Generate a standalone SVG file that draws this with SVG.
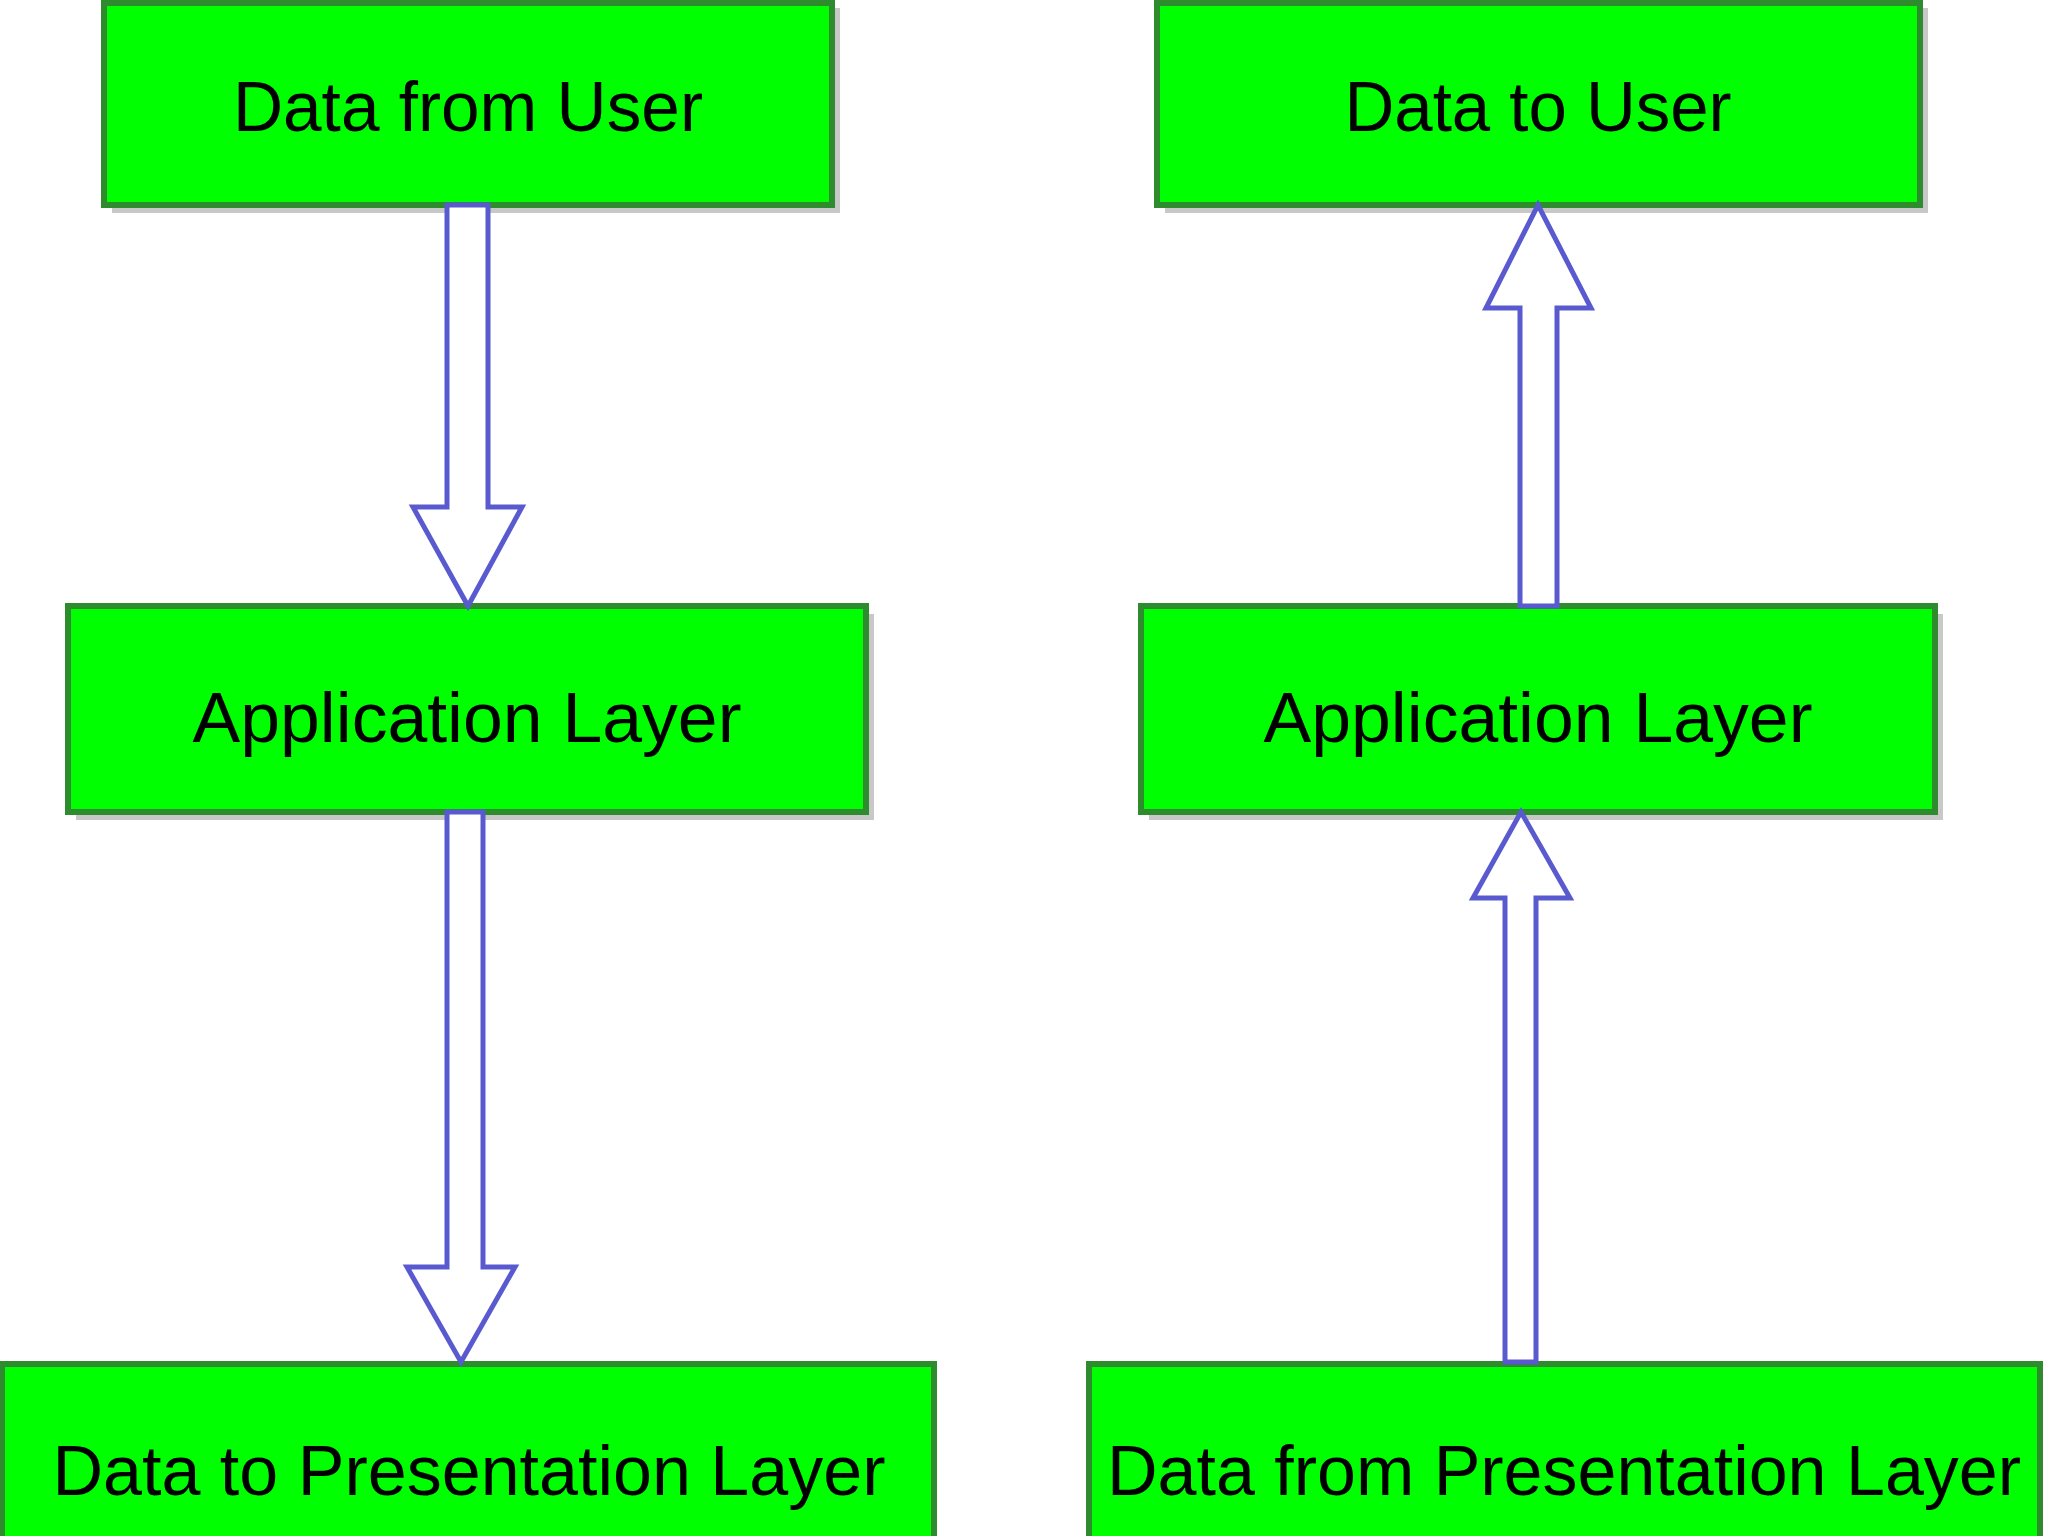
<svg xmlns="http://www.w3.org/2000/svg" width="2048" height="1536" viewBox="0 0 2048 1536">
<style>
.sh{fill:#c8c8c8}
.bx{fill:#00ff00;stroke:#2e8b2e;stroke-width:6}
.t{font-family:"Liberation Sans",Arial,sans-serif;font-size:70px;fill:#000;text-anchor:middle}
.ar{fill:#fff;stroke:#5a5ad0;stroke-width:5;stroke-linejoin:miter}
</style>
<rect width="2048" height="1536" fill="#fff"/>
<g id="n1"><rect class="sh" x="112" y="8" width="728" height="205"/><rect class="bx" x="104" y="3" width="728" height="202"/><text class="t" x="468" y="131" textLength="470" lengthAdjust="spacingAndGlyphs">Data from User</text></g>
<g id="n2"><rect class="sh" x="1165" y="8" width="763" height="205"/><rect class="bx" x="1157" y="3" width="763" height="202"/><text class="t" x="1538" y="131" textLength="387" lengthAdjust="spacingAndGlyphs">Data to User</text></g>
<g id="n3"><rect class="sh" x="76" y="614" width="798" height="206"/><rect class="bx" x="68" y="606" width="798" height="206"/><text class="t" x="467" y="742" textLength="549" lengthAdjust="spacingAndGlyphs">Application Layer</text></g>
<g id="n4"><rect class="sh" x="1149" y="614" width="794" height="206"/><rect class="bx" x="1141" y="606" width="794" height="206"/><text class="t" x="1538" y="742" textLength="549" lengthAdjust="spacingAndGlyphs">Application Layer</text></g>
<g id="n5"><rect class="bx" x="2" y="1364" width="932" height="180"/><text class="t" x="469" y="1495" textLength="833" lengthAdjust="spacingAndGlyphs">Data to Presentation Layer</text></g>
<g id="n6"><rect class="bx" x="1089" y="1364" width="951" height="180"/><text class="t" x="1564" y="1495" textLength="914" lengthAdjust="spacingAndGlyphs">Data from Presentation Layer</text></g>
<g id="connectors">
<path class="ar" d="M447,205 L488,205 L488,507 L522,507 L468,606 L413,507 L447,507 Z"/>
<path class="ar" d="M447,812 L483,812 L483,1267 L515,1267 L461,1362 L407,1267 L447,1267 Z"/>
<path class="ar" d="M1520,606 L1557,606 L1557,308 L1591,308 L1538,205 L1486,308 L1520,308 Z"/>
<path class="ar" d="M1505,1362 L1536,1362 L1536,898 L1570,898 L1521,812 L1473,898 L1505,898 Z"/>
</g>
</svg>
